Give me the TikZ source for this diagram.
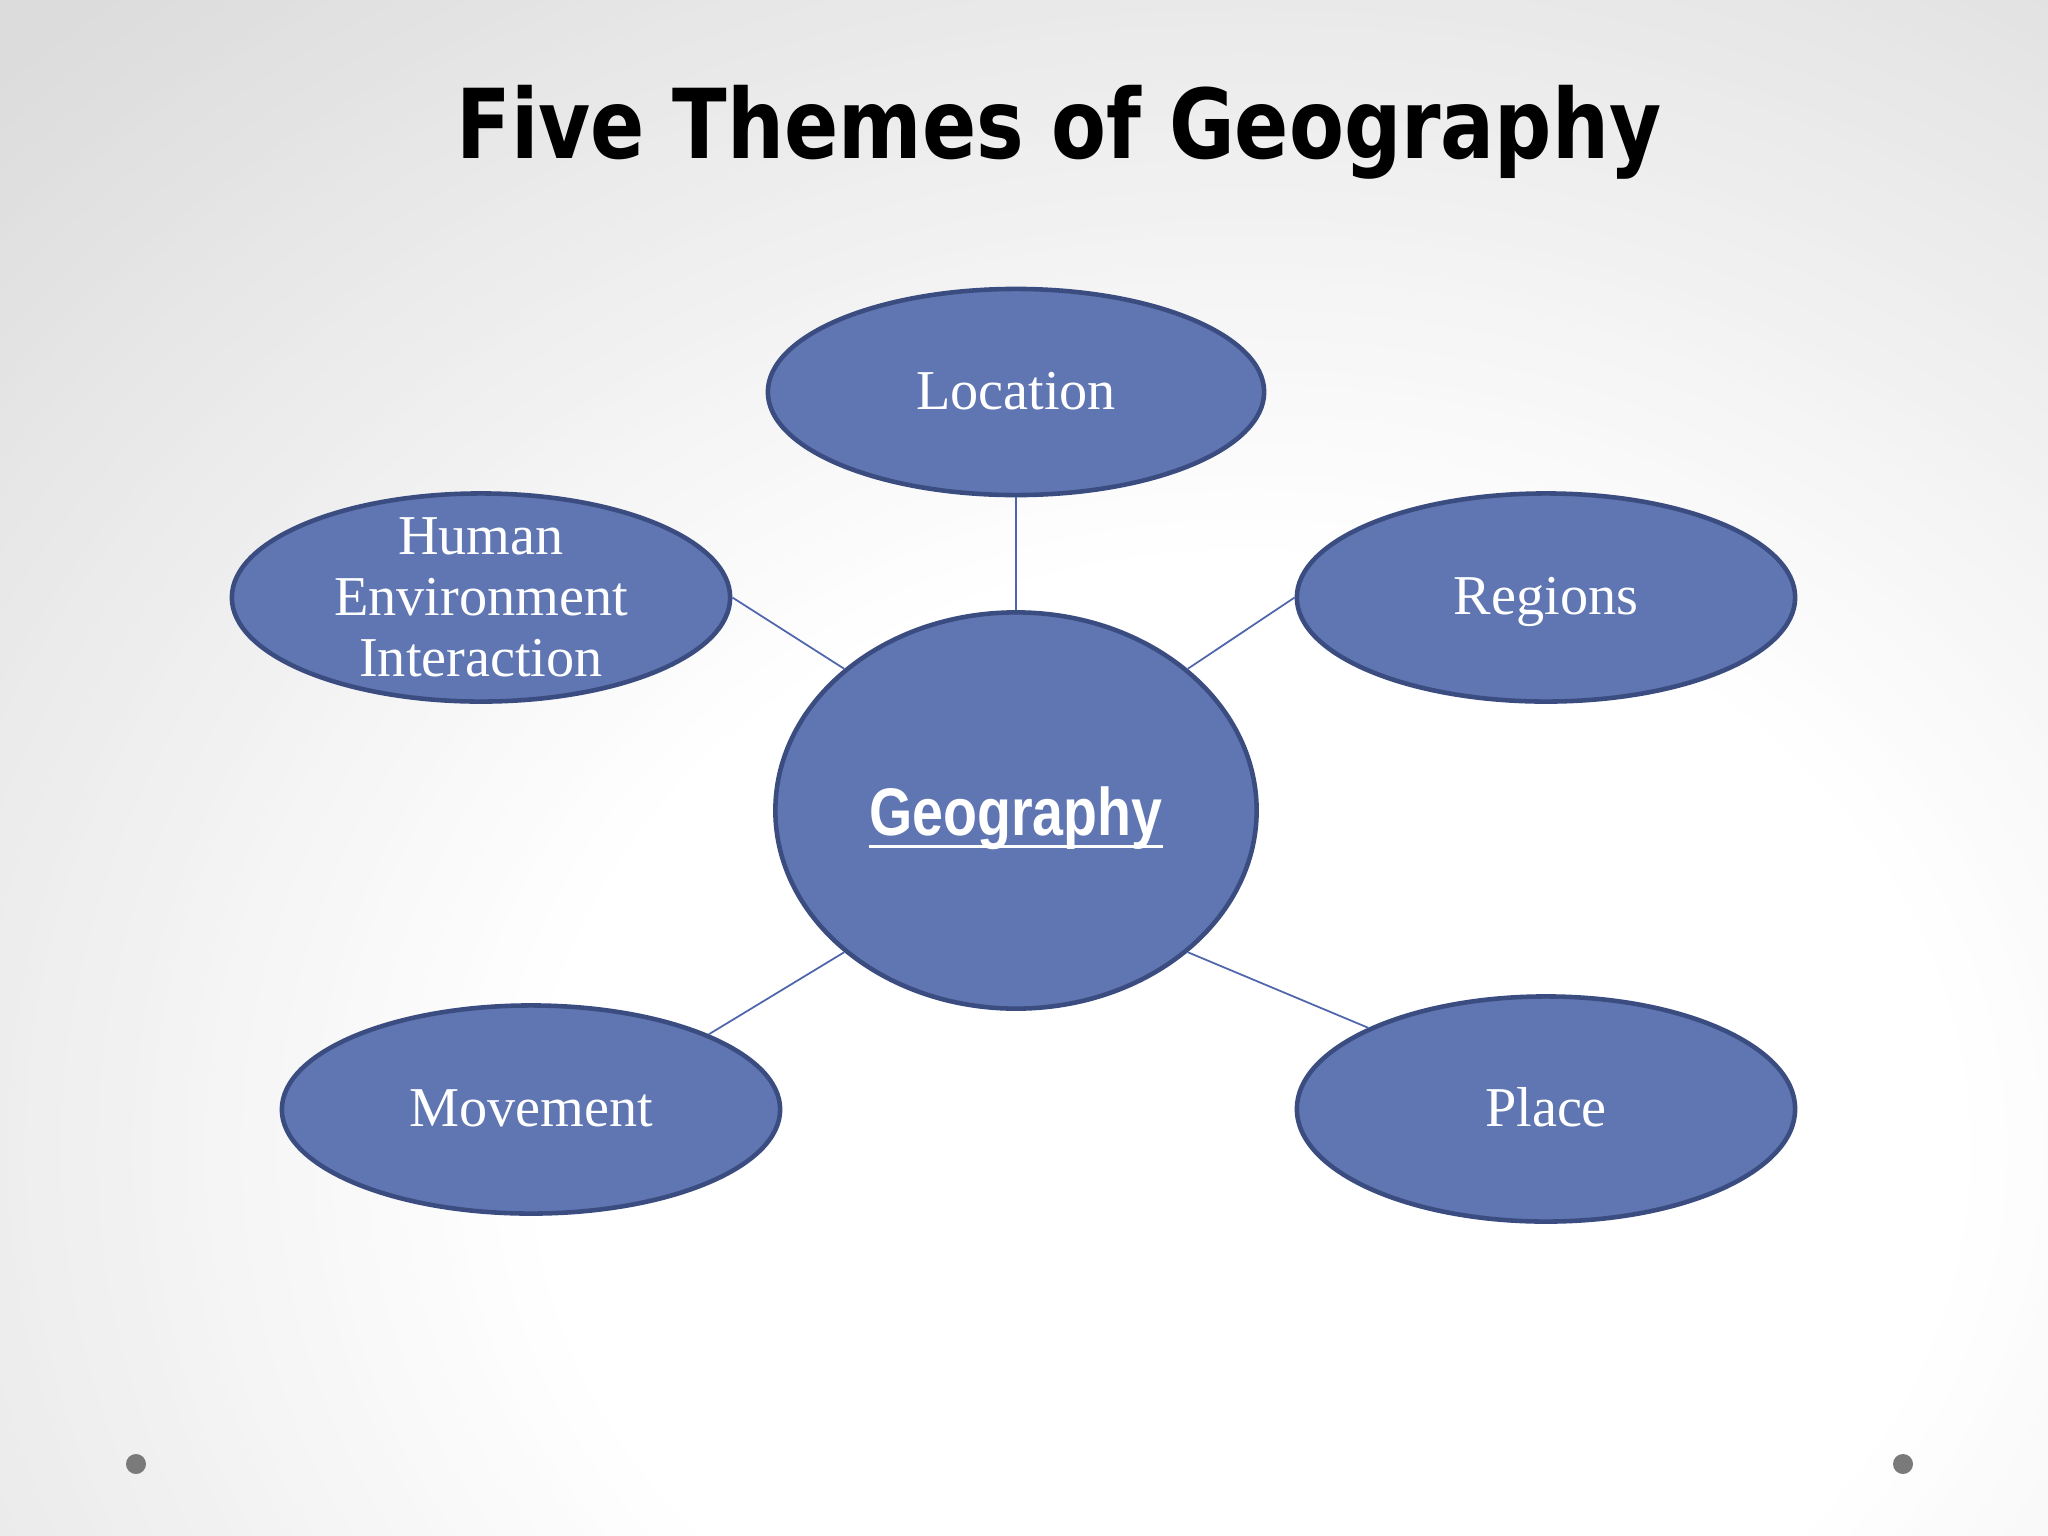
\documentclass[tikz,border=0pt]{standalone}
\usepackage{fontspec}
\usepackage{graphicx}
\setmainfont{Liberation Serif}
\newfontfamily\titlefont{DejaVu Sans Condensed}
\newfontfamily\geofont{Liberation Sans}
\usetikzlibrary{shapes.geometric}
\definecolor{ellfill}{RGB}{96,118,178}
\definecolor{elldraw}{RGB}{58,76,128}
\definecolor{linkcol}{RGB}{80,102,172}
\definecolor{dotcol}{RGB}{122,122,122}
\definecolor{bgedge}{RGB}{220,220,220}
\begin{document}
\begin{tikzpicture}[x=0.01cm,y=-0.01cm,
  theme/.style={ellipse, draw=elldraw, fill=ellfill, line width=1.3pt, inner sep=0pt,
    text=white, align=center, font=\fontsize{16}{17.4}\selectfont,
    text height=11.5pt, text depth=1.8pt,
    minimum width=4.98cm, minimum height=2.08cm},
  themetext/.style={inner sep=0pt, text=white, align=center, font=\fontsize{16}{17.4}\selectfont},
  link/.style={draw=linkcol, line width=0.5pt},
  dot/.style={circle, fill=dotcol, minimum size=0.2cm, inner sep=0pt}]
\useasboundingbox (0,0) rectangle (2048,1536);
\begin{scope}
  \clip (0,0) rectangle (2048,1536);
  \fill[bgedge] (0,0) rectangle (2048,1536);
  \foreach \i in {0,...,60} {
    \pgfmathsetmacro\ff{1-0.01*\i}
    \pgfmathsetmacro\pp{\i*100/60}
    \fill[white!\pp!bgedge] (1250,1150) ellipse [x radius=18*\ff cm, y radius=15*\ff cm];
  }
\end{scope}

\node[inner sep=0pt] (title) at (1059,132)
  {\resizebox*{12.04cm}{0.94cm}{\titlefont\bfseries Five Themes of Geography}};

\node[theme, minimum width=4.96cm, minimum height=2.06cm] (loc) at (1016,392) {Location};
\node[theme] (hum) at (481,597.5) {};
\node[themetext] (humtxt) at (hum.center) {Human\\Environment\\Interaction};
\node[theme] (reg) at (1546,597.5) {Regions};
\node[theme, minimum width=4.81cm, minimum height=3.96cm] (geo) at (1016,810.5) {};
\node[theme] (mov) at (531,1109.5) {Movement};
\node[theme, minimum height=2.25cm] (pla) at (1546,1109) {Place};

\node[inner sep=0pt, text=white] (gt) at (1016,818.5)
  {\resizebox*{2.93cm}{0.63cm}{\geofont\bfseries Geography}};
\draw[white, line width=0.03cm] ([yshift=0.04cm]gt.south west) -- ([yshift=0.04cm]gt.south east);

\draw[link] (loc.south) -- (geo.north);
\draw[link] (hum.east) -- (geo.north west);
\draw[link] (reg.west) -- (geo.north east);
\draw[link] (mov.north east) -- (geo.south west);
\draw[link] (pla.north west) -- (geo.south east);

\node[dot] (dotl) at (136,1464) {};
\node[dot] (dotr) at (1903,1464) {};
\end{tikzpicture}
\end{document}
